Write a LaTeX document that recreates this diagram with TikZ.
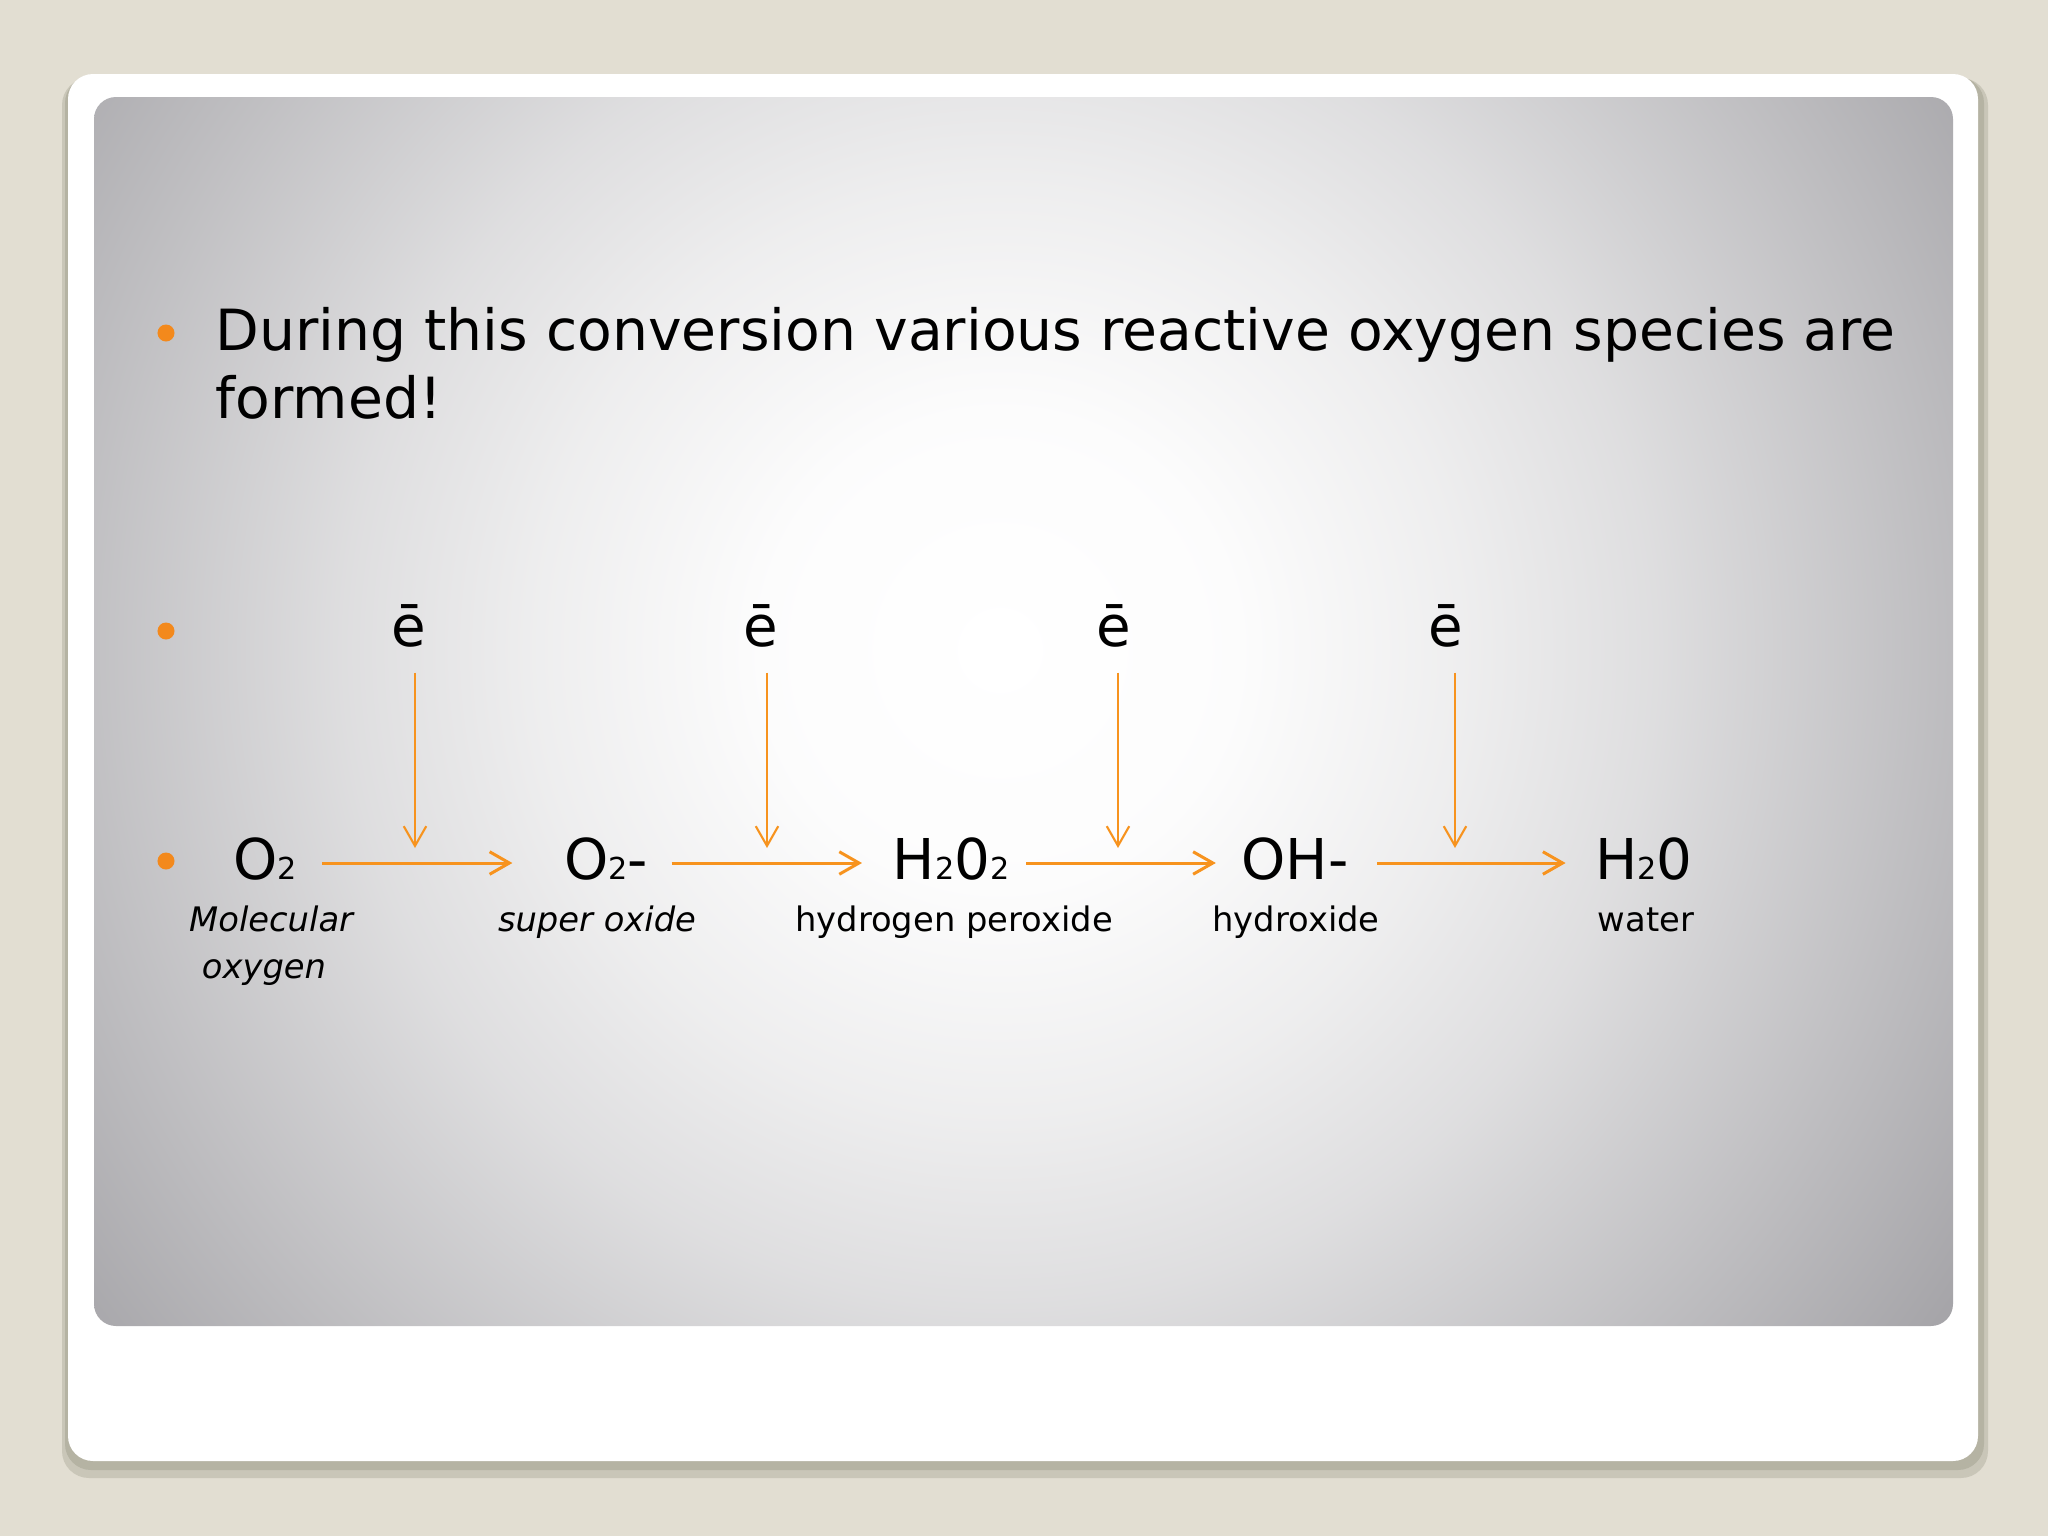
\documentclass[tikz,border=0pt]{standalone}
\usepackage{fontspec}
\setmainfont{DejaVu Sans}
\usetikzlibrary{arrows.meta}

\definecolor{deskbeige}{HTML}{E2DED2}
\definecolor{shadowtan}{HTML}{B5B3A3}
\definecolor{panelgray}{HTML}{A4A3A7}
\definecolor{bulletorange}{HTML}{F3891C}
\definecolor{arroworange}{HTML}{F7931E}

\pgfdeclareradialshading{slideglow}{\pgfpoint{0bp}{0bp}}{color(0bp)=(white);
    color(5bp)=(white!97!panelgray); color(10bp)=(white!81!panelgray);
    color(14bp)=(white!64!panelgray); color(20bp)=(white!29!panelgray);
    color(25bp)=(panelgray); color(50bp)=(panelgray)}

\newcommand{\smallsub}[1]{{\fontsize{8.6}{10}\selectfont #1}}

\begin{document}
\begin{tikzpicture}[x=0.01cm, y=-0.01cm,
    bulletdot/.style={circle, fill=bulletorange, inner sep=0pt, minimum size=0.17cm},
    species/.style={font=\fontsize{16}{19}\selectfont, inner sep=0pt,
        text height=12pt, text depth=2.9pt},
    electron/.style={font=\fontsize{16}{19}\selectfont, anchor=base, inner sep=0pt},
    tag/.style={font=\fontsize{9.6}{13.4}\selectfont, anchor=base, inner sep=0pt},
    flow/.style={color=arroworange, line width=0.85pt,
        -{Straight Barb[length=5.6pt,width=6.4pt]}},
    feed/.style={color=arroworange, line width=0.6pt, shorten <=0.25cm,
        -{Straight Barb[length=5.6pt,width=6.4pt]}}]

        \useasboundingbox (0,0) rectangle (2048,1536);

        % Slide frame
        \fill[deskbeige] (0,0) rectangle (2048,1536);
        \fill[shadowtan!55!deskbeige, rounded corners=0.27cm] (62,78) rectangle (1988,1478);
        \fill[shadowtan, rounded corners=0.26cm] (65,77) rectangle (1984,1470);
        \fill[white, rounded corners=0.25cm] (68,74) rectangle (1978,1461);
        \begin{scope}
            \clip[rounded corners=0.22cm] (94,97) rectangle (1953,1326);
            \shade[shading=slideglow] (1000,650) circle (11.7cm);
        \end{scope}

        % Add the bullets and the sentence
        \node[bulletdot] (b_1) at (166,333) {};
        \node[bulletdot] (b_2) at (166,631) {};
        \node[bulletdot] (b_3) at (166,861) {};
        \node[anchor=base west, inner sep=0pt,
            font=\fontsize{16.15}{19}\selectfont] (intro)
            at (215,350) {During this conversion various reactive oxygen species are};
        \node[anchor=base west, inner sep=0pt,
            font=\fontsize{16.15}{19}\selectfont] (intro_2)
            at (215,418) {formed!};

        % Add the species
        \node[species] (o2)  at (265,863)  {O\smallsub{2}};
        \node[species] (sox) at (606,863)  {O\smallsub{2}-};
        \node[species] (hpo) at (951,863)  {H\smallsub{2}0\smallsub{2}};
        \node[species] (hyd) at (1295,863) {OH-};
        \node[species] (wat) at (1644,863) {H\smallsub{2}0};

        % Add the names
        \node[tag] (o2_name)   at (272,931)  {\textit{Molecular}};
        \node[tag] (o2_name2)  at (264,978)  {\textit{oxygen}};
        \node[tag] (sox_name)  at (597,931)  {\textit{super oxide}};
        \node[tag] (hpo_name)  at (954,931)  {hydrogen peroxide};
        \node[tag] (hyd_name)  at (1296,931) {hydroxide};
        \node[tag] (wat_name)  at (1646,931) {water};

        % Add the electrons
        \node[electron] (e_1) at (409,646)  {ē};
        \node[electron] (e_2) at (761,646)  {ē};
        \node[electron] (e_3) at (1114,646) {ē};
        \node[electron] (e_4) at (1446,646) {ē};
        \coordinate (j_1) at (415,848);
        \coordinate (j_2) at (767,848);
        \coordinate (j_3) at (1118,848);
        \coordinate (j_4) at (1455,848);

        % Connect the species with arrows
        \draw[flow, shorten <=0.25cm, shorten >=0.51cm] (o2.east)  -- (sox.west);
        \draw[flow, shorten <=0.23cm, shorten >=0.30cm] (sox.east) -- (hpo.west);
        \draw[flow, shorten <=0.16cm, shorten >=0.25cm] (hpo.east) -- (hyd.west);
        \draw[flow, shorten <=0.28cm, shorten >=0.29cm] (hyd.east) -- (wat.west);

        % Electrons coming in
        \draw[feed] (e_1.south -| j_1) -- (j_1);
        \draw[feed] (e_2.south -| j_2) -- (j_2);
        \draw[feed] (e_3.south -| j_3) -- (j_3);
        \draw[feed] (e_4.south -| j_4) -- (j_4);
\end{tikzpicture}
\end{document}
